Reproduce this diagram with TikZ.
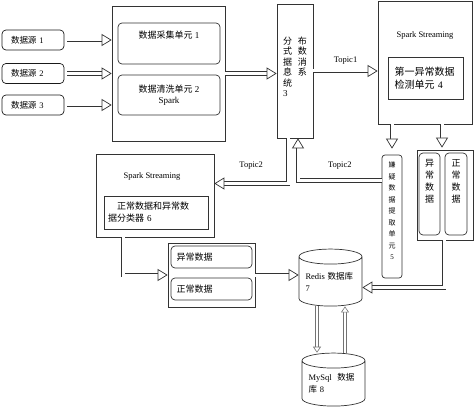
\documentclass[tikz,border=0pt]{standalone}
\usepackage{fontspec}
\setmainfont{Liberation Serif}
\newfontfamily\cjk{Noto Sans CJK SC}
\usetikzlibrary{arrows.meta,shapes.geometric}
\tikzset{
  box/.style={
    draw=black!80,
    line width=0.7pt,
    inner sep=0pt
  },
  box-round/.style={box, rounded corners=4pt},
  box-src/.style={box-round, draw=black!90, minimum width=62pt, minimum height=20pt, text width=44pt, align=left, font=\fontsize{8.5}{10}\selectfont},
  db/.style={box, cylinder, shape border rotate=90, aspect=0.3, text width=50pt, align=left, font=\fontsize{8.5}{12}\selectfont},
  txt/.style={inner sep=0pt, font=\fontsize{9}{11}\selectfont},
  txt-label/.style={inner sep=0pt, font=\fontsize{8.5}{10}\selectfont},
  flow/.style={
    draw=black!80,
    line width=0.7pt,
    double,
    double distance=3pt,
    -{Triangle[open, fill=white, length=10pt, width=12pt, line width=0.7pt]}
  },
  flow-thin/.style={flow, draw=black!55, line width=0.6pt, double distance=2.5pt, -{Triangle[open, fill=white, length=6pt, width=8pt, line width=0.6pt]}}
}

\begin{document}
\begin{tikzpicture}[x=1pt, y=-1pt]
  \useasboundingbox (0,0) rectangle (474,414);
  % Data sources
  \node[box-src] (src1) at (33,40) {{\cjk 数据源} 1};
  \node[box-src] (src2) at (33,73.5) {{\cjk 数据源} 2};
  \node[box-src] (src3) at (33,105) {{\cjk 数据源} 3};
  % Collection and cleaning
  \node[box, minimum width=113pt, minimum height=135pt] (collect) at (168.5,73.5) {};
  \node[box-round, minimum width=102pt, minimum height=41pt] (unit1) at (169,43.5) {};
  \node[txt] (unit1-text) at (169,35) {{\cjk 数据采集单元} 1};
  \node[box-round, txt, minimum width=102pt, minimum height=40pt, align=center] (unit2) at (169,95) {{\cjk 数据清洗单元} 2\\Spark};
  % Message system
  \node[box, minimum width=36pt, minimum height=134pt] (kafka) at (295,71) {};
  \node[txt, align=left, font=\fontsize{9}{10.5}\selectfont\cjk] (kafka-text) at (295,67)
    {分\hspace{6pt}布\\式\hspace{6pt}数\\据\hspace{6pt}消\\息\hspace{6pt}系\\统\\{\rmfamily 3}};
  % Spark Streaming with detection unit
  \node[box, minimum width=94pt, minimum height=123pt] (spark4) at (425,62.5) {};
  \node[txt-label] (spark4-text) at (425,35) {Spark Streaming};
  \node[box, minimum width=75pt, minimum height=42pt, text width=62pt, align=left, font=\fontsize{10}{12.5}\selectfont] (detect4) at (425.5,78)
    {{\cjk 第一异常数据}\\{\cjk 检测单元} 4};
  % Suspect data extraction
  \node[box-round, rounded corners=3pt, minimum width=20pt, minimum height=123pt] (suspect5) at (392,216.5) {};
  \node[txt, align=center, font=\fontsize{7}{11.5}\selectfont\cjk] (suspect5-text) at (392,211)
    {嫌\\疑\\数\\据\\提\\取\\单\\元\\{\rmfamily 5}};
  % Abnormal / normal split
  \node[box, minimum width=56pt, minimum height=90pt] (split) at (445,195) {};
  \node[box-round, minimum width=21pt, minimum height=82pt] (split-abn) at (429.5,194) {};
  \node[box-round, minimum width=22pt, minimum height=82pt] (split-norm) at (456,194) {};
  \node[txt, align=center, font=\fontsize{9}{12}\selectfont\cjk] (split-abn-text) at (429.5,181) {异\\常\\数\\据};
  \node[txt, align=center, font=\fontsize{9}{12}\selectfont\cjk] (split-norm-text) at (456,181) {正\\常\\数\\据};
  % Spark Streaming with classifier
  \node[box, minimum width=118pt, minimum height=83pt] (spark6) at (155,195.5) {};
  \node[txt-label] (spark6-text) at (152,176) {Spark Streaming};
  \node[box, minimum width=104pt, minimum height=33pt, text width=96pt, align=left, font=\fontsize{9}{12}\selectfont] (class6) at (156,212.5)
    {\hspace*{9pt}{\cjk 正常数据和异常数}\\{\cjk 据分类器} 6};
  % Result data
  \node[box, minimum width=87pt, minimum height=64pt] (result) at (211.5,275) {};
  \node[box-round, txt, minimum width=81pt, minimum height=22pt, text width=70pt, align=left] (result-abn) at (211.5,257) {{\cjk 异常数据}};
  \node[box-round, txt, minimum width=81pt, minimum height=22pt, text width=70pt, align=left] (result-norm) at (211.5,289) {{\cjk 正常数据}};
  % Databases
  \node[db, minimum width=63pt, minimum height=57pt] (redis) at (330.5,281.5) {Redis {\cjk 数据库}\\7};
  \node[db, minimum width=63pt, minimum height=53pt] (mysql) at (333.5,383.5) {MySql\ \ {\cjk 数据}\\{\cjk 库} 8};
  % Flows
  \foreach \s in {src1,src2,src3}
    \draw[flow, shorten <=3pt] (\s) -- (\s -| collect.west);
  \draw[flow] (collect.east) -- (collect.east -| kafka.west);
  \draw[flow] (kafka.east) -- (kafka.east -| spark4.west)
    node[txt-label, midway, above=6pt] (topic1) {Topic1};
  \draw[flow, shorten >=6pt] (spark4.south -| suspect5.north) -- (suspect5.north);
  \draw[flow, shorten >=2pt] ([xshift=-3pt]spark4.south -| split.north) -- ([xshift=-3pt]split.north);
  \draw[flow] ([xshift=-1pt]split.south) |- ([yshift=-6pt]redis.east);
  \draw[flow] ([xshift=-7pt]kafka.south) |- ([yshift=12pt]spark6.east)
    node[txt-label, pos=0.75, above=14pt] (topic2-left) {Topic2};
  \draw[flow] ([yshift=36pt]suspect5.west) -| ([xshift=3pt]kafka.south)
    node[txt-label, pos=0.25, above=11pt] (topic2-right) {Topic2};
  \draw[flow] ([xshift=-32pt]spark6.south) |- (result.west);
  \draw[flow] (result.east) -- (result.east -| redis.west);
  \draw[flow-thin] ([xshift=-13.5pt]redis.south) -- ([xshift=-13.5pt]redis.south |- mysql.north);
  \draw[flow-thin] ([xshift=11.5pt]mysql.north) -- ([xshift=11.5pt]mysql.north |- redis.south);
\end{tikzpicture}
\end{document}
